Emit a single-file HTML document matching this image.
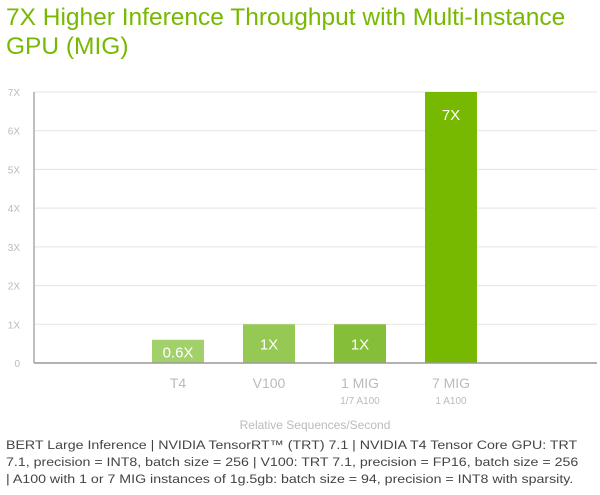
<!DOCTYPE html>
<html><head><meta charset="utf-8"><style>
body{margin:0;background:#fff;width:600px;height:495px;overflow:hidden;font-family:"Liberation Sans",sans-serif}
#title{position:absolute;left:6px;top:3px;font-size:24.5px;line-height:29px;color:#76b900;margin:0;font-weight:normal}
#foot{position:absolute;left:6px;top:437px;font-size:12.4px;line-height:17px;color:#444;white-space:nowrap;transform:scaleX(1.145);transform-origin:0 0}
</style></head><body>
<h1 id="title">7X Higher Inference Throughput with Multi-Instance<br>GPU (MIG)</h1>
<svg id="chart" width="600" height="432" style="position:absolute;left:0;top:0" font-family="Liberation Sans, sans-serif"></svg>
<div id="foot">BERT Large Inference | NVIDIA TensorRT™ (TRT) 7.1 | NVIDIA T4 Tensor Core GPU: TRT<br>7.1, precision = INT8, batch size = 256 | V100: TRT 7.1, precision = FP16, batch size = 256<br>| A100 with 1 or 7 MIG instances of 1g.5gb: batch size = 94, precision = INT8 with sparsity.</div>
<script>
const categories=["T4","V100","1 MIG","7 MIG"];
const subLabels=["","","1/7 A100","1 A100"];
const values=[0.6,1,1,7];
const valueLabels=["0.6X","1X","1X","7X"];
const yTicks=[0,1,2,3,4,5,6,7];
const yTickLabels=["0","1X","2X","3X","4X","5X","6X","7X"];
const colors=["#a2d06a","#95c953","#85bf3a","#76b900"];
const svg=document.getElementById('chart');
const NS="http://www.w3.org/2000/svg";
const y0=363,unit=(363-92)/7,left=34,right=597;
const yS=v=>y0-v*unit;
const xC=i=>178+i*91;
function mk(t,a,txt){const e=document.createElementNS(NS,t);for(const k in a)e.setAttribute(k,a[k]);if(txt!==undefined)e.textContent=txt;svg.appendChild(e);return e;}
yTicks.forEach((v,i)=>{
  if(v>0){const g=mk('line',{x1:left,x2:right,y1:yS(v),y2:yS(v),stroke:'#e3e3e3','stroke-width':1});
  
  }
  const t=mk('text',{x:20,y:yS(v)+4,'text-anchor':'end','font-size':10,fill:'#bbb'},yTickLabels[i]);
  
  
});
categories.forEach((c,i)=>{
  const b=mk('rect',{x:xC(i)-26,y:yS(values[i]),width:52,height:values[i]*unit,fill:colors[i]});
  
  
  const vl=mk('text',{x:xC(i),y:yS(values[i])+Math.min(values[i]*unit/2,22)+6,'text-anchor':'middle','font-size':15,fill:'#fff'},valueLabels[i]);
  
  
  const xl=mk('text',{x:xC(i),y:388,'text-anchor':'middle','font-size':14,fill:'#bbb'},c);
  
  
  if(subLabels[i]){const s=mk('text',{x:xC(i),y:404,'text-anchor':'middle','font-size':10,fill:'#bbb'},subLabels[i]);
  
  }
});
const ax=mk('line',{x1:left,x2:right,y1:y0,y2:y0,stroke:'#999','stroke-width':1.5});


const ay=mk('line',{x1:left,x2:left,y1:92,y2:y0,stroke:'#aaa','stroke-width':1.5});


const at=mk('text',{x:315,y:429,'text-anchor':'middle','font-size':12,fill:'#bbb'},'Relative Sequences/Second');


</script>
</body></html>
